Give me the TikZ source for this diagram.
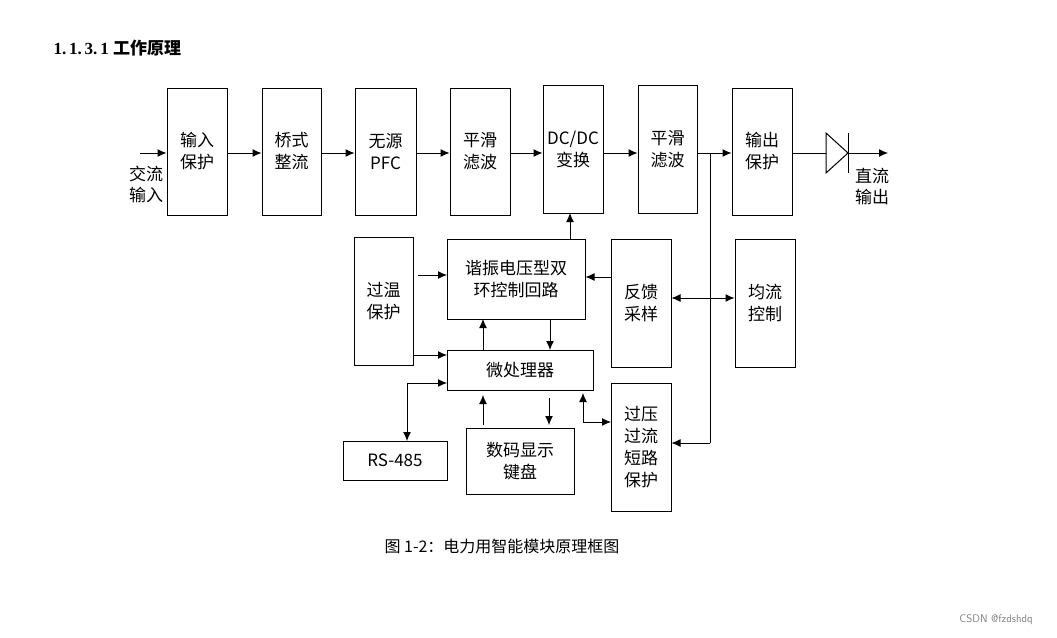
\documentclass[tikz,border=0pt]{standalone}
\usepackage{fontspec}
\setmainfont{Liberation Serif}
\newfontfamily\cjk{Noto Sans CJK SC}
\usetikzlibrary{arrows.meta}
\begin{document}
\begin{tikzpicture}[x=1pt,y=-1pt,
  box/.style={draw,line width=1pt,inner sep=0pt,align=center,font=\cjk\fontsize{17}{22}\selectfont},
  ar/.style={line width=1pt,-{Latex[length=9pt,width=8pt]}},
  dar/.style={line width=1pt,{Latex[length=9pt,width=8pt]}-{Latex[length=9pt,width=8pt]}},
  ln/.style={line width=1pt}]
\useasboundingbox (0,0) rectangle (1057,637);
\fill[white] (0,0) rectangle (1057,637);
\node[anchor=west,font=\bfseries\fontsize{17}{20}\selectfont] (title) at (50,48) {1.\,1.\,3.\,1 {\cjk 工作原理}};
\def\bx#1#2#3#4#5#6{\node[box,minimum width=#4-#3,minimum height=#6-#5] (#1) at ({(#3+#4)/2},{(#5+#6)/2}) {#2};}
\bx{ip}{输入\\保护}{167}{227}{88}{215}
\bx{br}{桥式\\整流}{262}{321}{88}{215}
\bx{pfc}{无源\\PFC}{355}{416}{88}{215}
\bx{f1}{平滑\\滤波}{450}{510}{88}{215}
\bx{dc}{DC/DC\\变换}{543}{603}{85}{213}
\bx{f2}{平滑\\滤波}{638}{697}{85}{213}
\bx{op}{输出\\保护}{732}{792}{88}{215}
\bx{xz}{谐振电压型双\\环控制回路}{447}{585}{239}{319}
\bx{gw}{过温\\保护}{354}{413}{237}{365}
\bx{fk}{反馈\\采样}{611}{671}{239}{367}
\bx{jl}{均流\\控制}{735}{795}{239}{367}
\bx{mcu}{微处理器}{447}{593}{350}{390}
\bx{rs}{RS-485}{343}{447}{441}{480}
\bx{kb}{数码显示\\键盘}{466}{574}{428}{494}
\bx{gy}{过压\\过流\\短路\\保护}{611}{671}{383}{511}
\coordinate (in) at (140,153);
\draw[ar] (in) -- (ip.west|-in);
\node[font=\cjk\fontsize{17}{21}\selectfont,align=center] (inl) at (146,184) {交流\\输入};
\draw[ar] (ip.east|-in) -- (br.west|-in);
\draw[ar] (br.east|-in) -- (pfc.west|-in);
\draw[ar] (pfc.east|-in) -- (f1.west|-in);
\draw[ar] (f1.east|-in) -- (dc.west|-in);
\draw[ar] (dc.east|-in) -- (f2.west|-in);
\coordinate (j) at (710,153);
\draw[ln] (f2.east|-j) -- (j);
\draw[ar] (j) -- (op.west|-j);
\coordinate (da) at (826,153);
\coordinate (dk) at (848,153);
\coordinate (out) at (888,153);
\draw[ln] (op.east|-j) -- (da);
\draw[ln] (826,133) -- (dk) -- (826,173) -- cycle;
\draw[ln] (848,133) -- (848,173);
\draw[ar] (dk) -- (out);
\node[font=\cjk\fontsize{17}{21}\selectfont,align=center] (outl) at (872,187) {直流\\输出};
\coordinate (jb) at (710,443);
\draw[ln] (j) -- (jb);
\draw[ar] (jb) -- (gy.east|-jb);
\coordinate (jm) at (710,298);
\draw[ar] (jm) -- (fk.east|-jm);
\draw[ar] (jm) -- (jl.west|-jm);
\coordinate (fa) at (611,277);
\draw[ar] (fa) -- (xz.east|-fa);
\draw[ar] (570,239) -- (570,213);
\draw[ar] (418,275) -- (447,275);
\draw[ar] (413,355) -- (447,355);
\draw[ar] (483,350) -- (483,319);
\draw[ar] (550,319) -- (550,350);
\draw[dar] (407,441) -- (407,383) -- (447,383);
\draw[ar] (483,425) -- (483,395);
\draw[ar] (549,398) -- (549,425);
\draw[dar] (583,393) -- (583,422) -- (611,422);
\node[font=\cjk\fontsize{16}{19}\selectfont] (cap) at (502,546) {图 1-2：电力用智能模块原理框图};
\node[font=\sffamily\fontsize{11}{13}\selectfont,text=gray] (wm) at (996,620) {CSDN @fzdshdq};
\end{tikzpicture}
\end{document}
